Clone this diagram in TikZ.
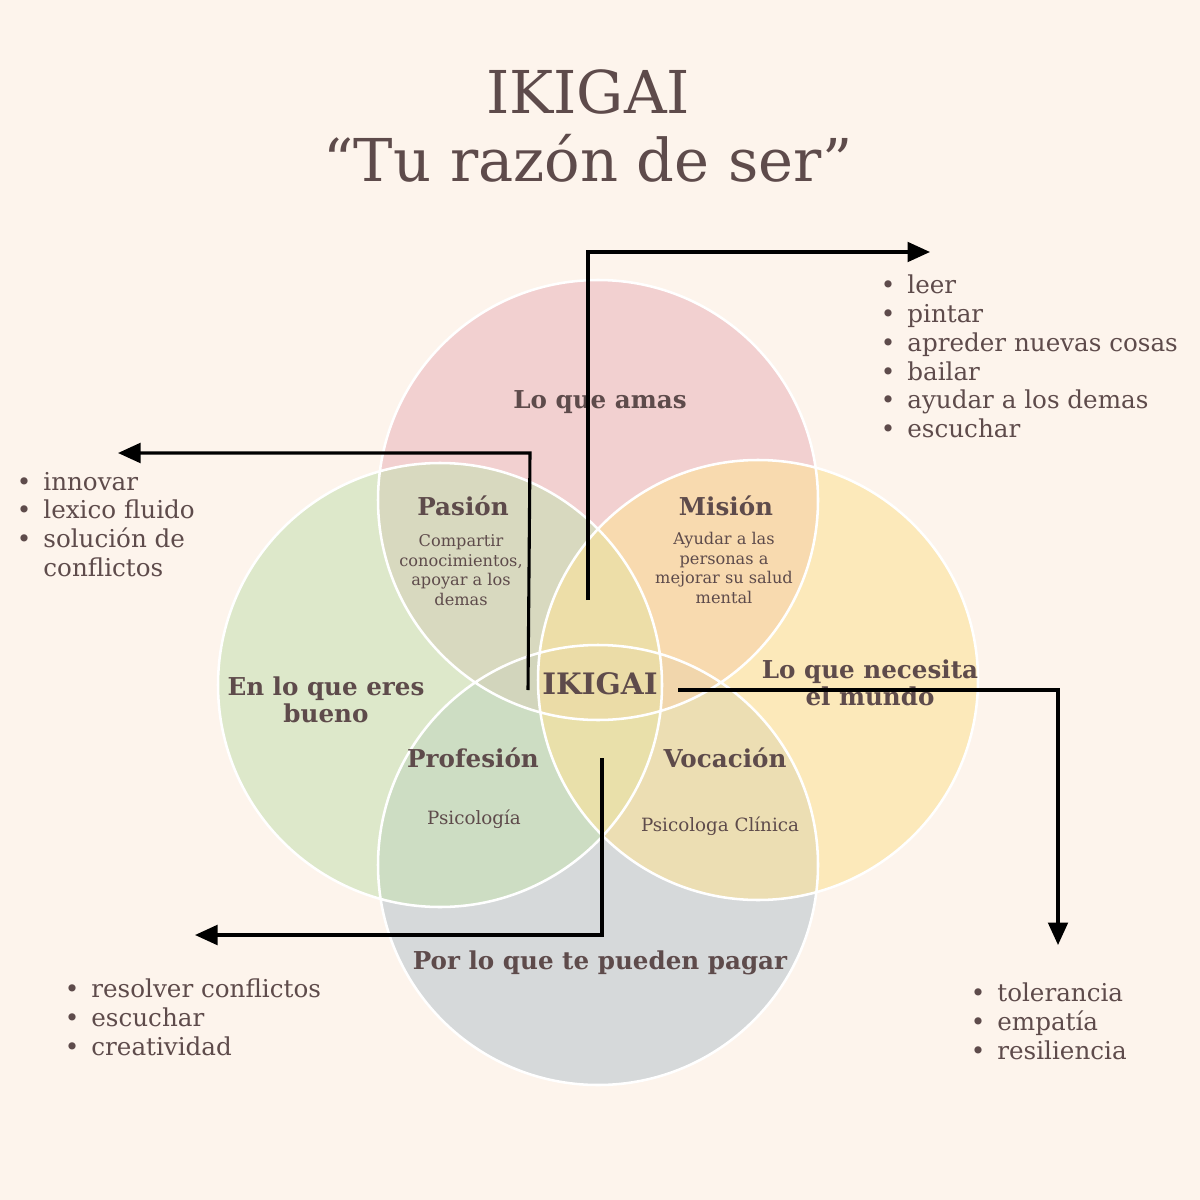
\documentclass[tikz,border=0pt]{standalone}
\usepackage{fontspec}
\setmainfont{DejaVu Serif}
\usetikzlibrary{arrows.meta}
\definecolor{bg}{HTML}{FDF4EC}
\definecolor{txt}{HTML}{5E4B4B}
\definecolor{cpink}{HTML}{EBB8BE}
\definecolor{cgreen}{HTML}{C8E0B4}
\definecolor{cyellow}{HTML}{FCE29A}
\definecolor{cgray}{HTML}{BCC7CE}
\tikzset{
 circ/.style={fill opacity=0.6},
 lbl/.style={text=txt,font=\bfseries\fontsize{17.5}{19}\selectfont,align=center},
 small/.style={text=txt,font=\fontsize{11.5}{14}\selectfont,align=center},
 lst/.style={text=txt,font=\fontsize{17.5}{20.5}\selectfont,align=left,anchor=north west},
 arr/.style={line width=2.2pt,-{Triangle[length=16pt,width=14pt]}},
}
\begin{document}
\begin{tikzpicture}[x=0.025cm,y=-0.025cm]
\fill[bg] (0,0) rectangle (1200,1200);
\useasboundingbox (0,0) rectangle (1200,1200);
\fill[cgray,circ] (598,865) circle (220);
\fill[cpink,circ] (598,500) circle (220);
\fill[cgreen,circ] (440,685) circle (222);
\fill[cyellow,circ] (758,680) circle (220);
\draw[white,line width=1.8pt] (598,500) circle (220) (440,685) circle (222) (758,680) circle (220) (598,865) circle (220);
\node[text=txt,font=\fontsize{42}{42}\selectfont] (t1) at (588,92) {IKIGAI};
\node[text=txt,font=\fontsize{42}{42}\selectfont] (t2) at (588,158) {“Tu razón de ser”};
\node[lbl] (ama) at (600,402) {Lo que amas};
\node[lbl] (bue) at (326,700) {En lo que eres\\bueno};
\node[lbl] (mun) at (870,683) {Lo que necesita\\el mundo};
\node[lbl] (pag) at (600,963) {Por lo que te pueden pagar};
\node[lbl] (pas) at (463,506) {Pasión};
\node[small] (pasT) at (461,570) {Compartir\\conocimientos,\\apoyar a los\\demas};
\node[lbl] (mis) at (726,506) {Misión};
\node[small] (misT) at (724,568) {Ayudar a las\\personas a\\mejorar su salud\\mental};
\node[lbl] (pro) at (473,758) {Profesión};
\node[small,font=\fontsize{13}{14}\selectfont] (proT) at (474,819) {Psicología};
\node[small,font=\fontsize{13}{14}\selectfont] (vocT) at (720,826) {Psicologa Clínica};
\node[lbl] (voc) at (725,758) {Vocación};
\node[lbl,font=\bfseries\fontsize{21}{21}\selectfont] (iki) at (600,684) {IKIGAI};
\coordinate (a1) at (588,600); \coordinate (a2) at (588,252); \coordinate (a3) at (930,252);
\draw[arr] (a1) -- (a2) -- (a3);
\coordinate (b1) at (528,690); \coordinate (b2) at (530,453); \coordinate (b3) at (118,453);
\draw[arr] (b1) -- (b2) -- (b3);
\coordinate (c1) at (678,690); \coordinate (c2) at (1058,690); \coordinate (c3) at (1058,945);
\draw[arr] (c1) -- (c2) -- (c3);
\coordinate (d1) at (602,758); \coordinate (d2) at (602,935); \coordinate (d3) at (195,935);
\draw[arr] (d1) -- (d2) -- (d3);
\node[lst] (l1) at (876,270) {• \,leer\\• \,pintar\\• \,apreder nuevas cosas\\• \,bailar\\• \,ayudar a los demas\\• \,escuchar};
\node[lst] (l2) at (12,467) {• \,innovar\\• \,lexico fluido\\• \,solución de\\\phantom{• \,}conflictos};
\node[lst] (l3) at (60,974) {• \,resolver conflictos\\• \,escuchar\\• \,creatividad};
\node[lst] (l4) at (966,978) {• \,tolerancia\\• \,empatía\\• \,resiliencia};
\end{tikzpicture}
\end{document}
